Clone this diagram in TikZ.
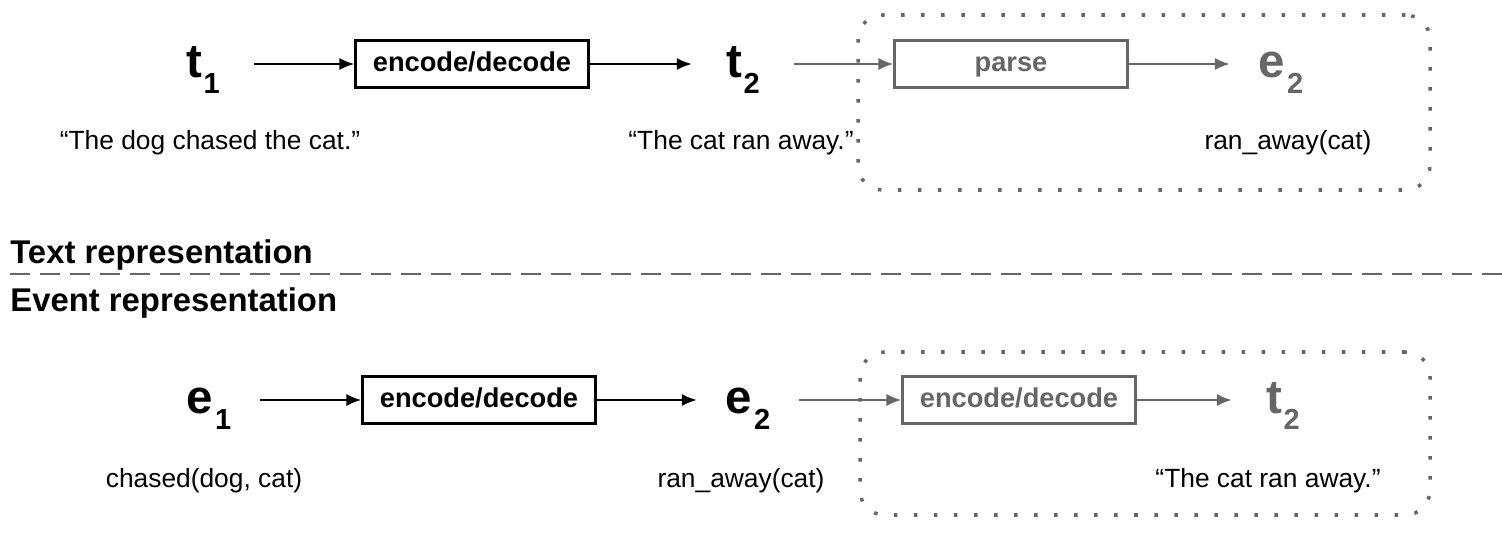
\documentclass[tikz,border=0pt]{standalone}
\usepackage{fontspec}
\setmainfont{Liberation Sans}
\usetikzlibrary{arrows.meta,fit,positioning}
\definecolor{fadegray}{HTML}{666666}
\newcommand{\symb}[2]{#1\kern1pt\raisebox{-9.5pt}{\fontsize{16.5}{16.5}\selectfont #2}}

\begin{document}
\begin{tikzpicture}[
                x=0.02cm, y=-0.02cm,
                >={Latex[length=8.5pt,width=7pt]},
                every node/.style={font=\fontsize{15}{18}\selectfont},
                sym/.style={font=\fontsize{27}{27}\selectfont\bfseries, minimum width=2.05cm, inner sep=0pt, outer sep=0pt, text height=17pt, text depth=2.2pt},
                stage/.style={draw, line width=1.7pt, minimum width=4.65cm, minimum height=0.94cm, inner sep=0pt, text height=11.5pt, text depth=3.2pt, font=\fontsize{15.5}{18}\selectfont\bfseries},
                flow/.style={->, line width=1.3pt},
                faded/.style={draw=fadegray, text=fadegray},
                groupbox/.style={draw=fadegray, line width=2pt, dash pattern=on 2pt off 9.4pt, rounded corners=14pt, inner sep=0pt},
                caption/.style={font=\fontsize{18.7}{22}\selectfont\bfseries, anchor=base west, inner sep=0pt},
                divider/.style={draw=fadegray, line width=1.7pt, dash pattern=on 11.4pt off 5.7pt}
            ]

            \useasboundingbox (0,0) rectangle (1502,548);

            % text row
            \node[sym] (t1) at (203,64) {\symb{t}{1}};
            \node[stage] (enc1) at (472,64) {encode/decode};
            \node[sym] (t2) at (743,64) {\symb{t}{2}};
            \node[stage,faded] (parse) at (1011,64) {parse};
            \node[sym,text=fadegray] (e2) at (1281,64) {\symb{e}{2}};

            \node (s1) at (210,143) {“The dog chased the cat.”};
            \node (s2) at (741,143) {“The cat ran away.”};
            \node (s3) at (1288,143) {ran\_away(cat)};

            \draw[flow] (t1) -- (enc1);
            \draw[flow] (enc1) -- (t2);
            \draw[flow,fadegray] (t2) -- (parse);
            \draw[flow,fadegray] (parse) -- (e2);

            \node[groupbox, fit={(858,15) (1430,190)}] (grp1) {};

            % divider
            \node[caption] (txtcap) at (10,263) {Text representation};
            \coordinate (divL) at (10,274);
            \coordinate (divR) at (1502,274);
            \draw[divider] (divL) -- (divR);
            \node[caption] (evcap) at (10,311) {Event representation};

            % event row
            \node[sym] (e1) at (209,400) {\symb{e}{1}};
            \node[stage] (enc2) at (479,400) {encode/decode};
            \node[sym] (e2b) at (748,400) {\symb{e}{2}};
            \node[stage,faded] (enc3) at (1019,400) {encode/decode};
            \node[sym,text=fadegray] (t2b) at (1283,400) {\symb{t}{2}};

            \node (r1) at (204,481) {chased(dog, cat)};
            \node (r2) at (741,481) {ran\_away(cat)};
            \node (r3) at (1268,481) {“The cat ran away.”};

            \draw[flow] (e1) -- (enc2);
            \draw[flow] (enc2) -- (e2b);
            \draw[flow,fadegray] (e2b) -- (enc3);
            \draw[flow,fadegray] (enc3) -- (t2b);

            \node[groupbox, fit={(860,352) (1430,515)}] (grp2) {};
        \end{tikzpicture}
\end{document}
